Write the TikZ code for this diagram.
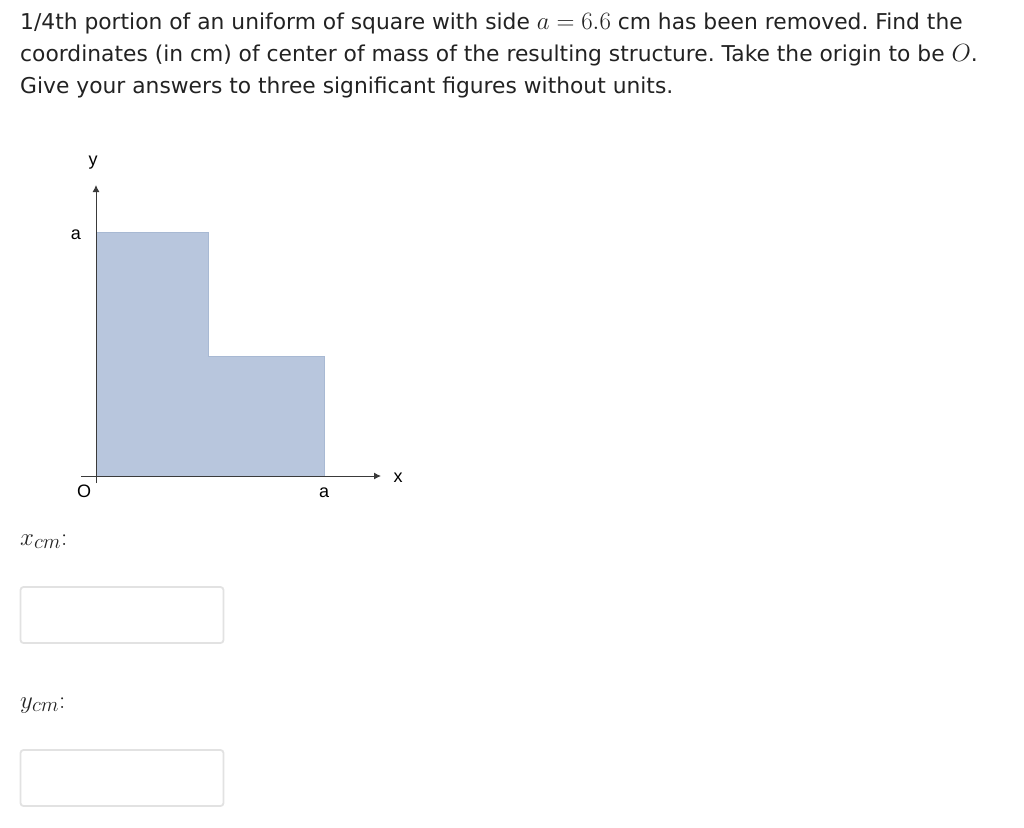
\documentclass[tikz,border=0pt]{standalone}
\usepackage{fontspec}
\setmainfont{DejaVu Sans}
\newfontfamily\axfont{Liberation Sans}
\usetikzlibrary{arrows.meta}
\definecolor{shapefill}{HTML}{B8C6DD}
\definecolor{shapeedge}{HTML}{A8B9D3}
\definecolor{axiscol}{HTML}{3A3A3A}
\definecolor{boxedge}{HTML}{E2E2E2}
\definecolor{txt}{HTML}{222222}
\newcommand{\qmath}[1]{{\fontsize{24.5}{26}\selectfont$#1$}}
\frenchspacing
\tikzset{
  qtext/.style={anchor=base west, inner sep=0pt, font=\fontsize{21.8}{24}\selectfont, text=txt},
  axlabel/.style={inner sep=0pt, font=\axfont\fontsize{18}{20}\selectfont, text=black},
  axisline/.style={draw=axiscol, line width=1pt},
  ansbox/.style={draw=boxedge, line width=1.8pt, rounded corners=3pt, fill=white},
  anslabel/.style={anchor=base west, inner sep=0pt, font=\fontsize{29}{30}\selectfont, text=txt}
}
\begin{document}
\begin{tikzpicture}[x=1pt,y=-1pt]
\useasboundingbox (0,0) rectangle (1024,827);
% question text
\node[qtext] (l1) at (20,29) {1/4th portion of an uniform of square with side \qmath{a=6.6} cm has been removed. Find the};
\node[qtext] (l2) at (20,61) {coordinates (in cm) of center of mass of the resulting structure. Take the origin to be \qmath{O}.};
\node[qtext] (l3) at (20,93) {Give your answers to three significant figures without units.};
% shape
\fill[shapefill] (96,232) -- (208,232) -- (208,356) -- (324,356) -- (324,476) -- (96,476) -- cycle;
\draw[shapeedge, line width=0.8pt] (96,232) -- (208,232) -- (208,356) -- (324,356) -- (324,476);
% axes
\coordinate (O) at (96,476);
\coordinate (ybot) at (96,483);
\coordinate (ytop) at (96,185);
\coordinate (xleft) at (81,476);
\coordinate (xright) at (381,476);
\draw[axisline, -{Latex[length=7pt,width=7pt]}] (ybot) -- (ytop);
\draw[axisline, -{Latex[length=7pt,width=7pt]}] (xleft) -- (xright);
\node[axlabel] (ylab) at (93,163) {y};
\node[axlabel] (xlab) at (398,478) {x};
\node[axlabel] (ya) at (76,235) {a};
\node[axlabel] (olab) at (84,491) {O};
\node[axlabel] (xa) at (324,493) {a};
% answers
\node[anslabel] (xcm) at (20,545) {$x_{cm}\mathpunct{:}$};
\node[ansbox, minimum width=203pt, minimum height=56pt] (box1) at (122,615) {};
\node[anslabel] (ycm) at (20,708) {$y_{cm}\mathpunct{:}$};
\node[ansbox, minimum width=203pt, minimum height=56pt] (box2) at (122,778) {};
\end{tikzpicture}
\end{document}
